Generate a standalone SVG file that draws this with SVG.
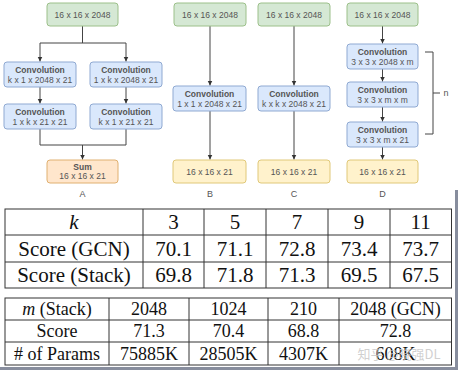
<svg xmlns="http://www.w3.org/2000/svg" width="458" height="370" viewBox="0 0 458 370">
<style>
.box{stroke-width:1}
.g{fill:#d5e8d4;stroke:#9cc08a}
.b{fill:#dae8fc;stroke:#8fa9d2}
.o{fill:#ffe6cc;stroke:#e0b070}
.y{fill:#fff2cc;stroke:#e0c878}
.t{font-family:"Liberation Sans",Arial,sans-serif;font-size:8.5px;fill:#555;text-anchor:middle}
.tb{font-weight:bold}
.lbl{font-family:"Liberation Sans",Arial,sans-serif;font-size:9px;fill:#555;text-anchor:middle}
.c{fill:none;stroke:#444;stroke-width:1}
.tl{fill:none;stroke:#333;stroke-width:1}
.tx{font-family:"Liberation Serif","Times New Roman",serif;fill:#111;text-anchor:middle}
.t1{font-size:21px}
.t2{font-size:18px}
</style>
<defs>
<marker id="ah" markerUnits="userSpaceOnUse" markerWidth="6" markerHeight="6" refX="5" refY="2.5" orient="auto">
<path d="M0,0 L5,2.5 L0,5 z" fill="#333"/>
</marker>
</defs>
<rect width="458" height="370" fill="#fff"/>

<g id="connectors">
<path class="c" d="M82.5 26 V43 M40 43 H126"/>
<path class="c" d="M40 43 V61.5" marker-end="url(#ah)"/>
<path class="c" d="M126 43 V61.5" marker-end="url(#ah)"/>
<path class="c" d="M40 87 V103.5" marker-end="url(#ah)"/>
<path class="c" d="M126 87 V103.5" marker-end="url(#ah)"/>
<path class="c" d="M40 129 V145 H126 V129"/>
<path class="c" d="M82.5 145 V159.5" marker-end="url(#ah)"/>
<path class="c" d="M210 26 V85.5" marker-end="url(#ah)"/>
<path class="c" d="M210 111 V159.5" marker-end="url(#ah)"/>
<path class="c" d="M294 26 V85.5" marker-end="url(#ah)"/>
<path class="c" d="M294 111 V159.5" marker-end="url(#ah)"/>
<path class="c" d="M382.5 26 V43.5" marker-end="url(#ah)"/>
<path class="c" d="M382.5 69 V81.5" marker-end="url(#ah)"/>
<path class="c" d="M382.5 107 V121.5" marker-end="url(#ah)"/>
<path class="c" d="M382.5 147 V159.5" marker-end="url(#ah)"/>
<path class="c" d="M425 52 H433 V134 H425 M433 93 H440" stroke="#666"/>
</g>

<g id="a-in"><rect class="box g" x="47" y="3" width="71" height="23" rx="3"/><text class="t" x="82.5" y="17.5">16 x 16 x 2048</text></g>
<g id="a-conv1l"><rect class="box b" x="4" y="62" width="72" height="25" rx="3"/><text class="t tb" x="40" y="73">Convolution</text><text class="t" x="40" y="83">k x 1 x 2048 x 21</text></g>
<g id="a-conv1r"><rect class="box b" x="90" y="62" width="72" height="25" rx="3"/><text class="t tb" x="126" y="73">Convolution</text><text class="t" x="126" y="83">1 x k x 2048 x 21</text></g>
<g id="a-conv2l"><rect class="box b" x="4" y="104" width="72" height="25" rx="3"/><text class="t tb" x="40" y="115">Convolution</text><text class="t" x="40" y="125">1 x k x 21 x 21</text></g>
<g id="a-conv2r"><rect class="box b" x="90" y="104" width="72" height="25" rx="3"/><text class="t tb" x="126" y="115">Convolution</text><text class="t" x="126" y="125">k x 1 x 21 x 21</text></g>
<g id="a-sum"><rect class="box o" x="47" y="160" width="71" height="23" rx="3"/><text class="t tb" x="82.5" y="169.5">Sum</text><text class="t" x="82.5" y="179">16 x 16 x 21</text></g>
<text class="lbl" x="82.5" y="196.5">A</text>

<g id="b-in"><rect class="box g" x="174" y="3" width="72" height="23" rx="3"/><text class="t" x="210" y="17.5">16 x 16 x 2048</text></g>
<g id="b-conv"><rect class="box b" x="173" y="86" width="73" height="25" rx="3"/><text class="t tb" x="209.5" y="97">Convolution</text><text class="t" x="209.5" y="107">1 x 1 x 2048 x 21</text></g>
<g id="b-out"><rect class="box y" x="173" y="160" width="73" height="23" rx="3"/><text class="t" x="209.5" y="174.5">16 x 16 x 21</text></g>
<text class="lbl" x="210" y="196.5">B</text>

<g id="c-in"><rect class="box g" x="258" y="3" width="72" height="23" rx="3"/><text class="t" x="294" y="17.5">16 x 16 x 2048</text></g>
<g id="c-conv"><rect class="box b" x="258" y="86" width="72" height="25" rx="3"/><text class="t tb" x="294" y="97">Convolution</text><text class="t" x="294" y="107">k x k x 2048 x 21</text></g>
<g id="c-out"><rect class="box y" x="258" y="160" width="72" height="23" rx="3"/><text class="t" x="294" y="174.5">16 x 16 x 21</text></g>
<text class="lbl" x="294" y="196.5">C</text>

<g id="d-in"><rect class="box g" x="347" y="3" width="71" height="23" rx="3"/><text class="t" x="382.5" y="17.5">16 x 16 x 2048</text></g>
<g id="d-conv1"><rect class="box b" x="347" y="44" width="71" height="25" rx="3"/><text class="t tb" x="382.5" y="55">Convolution</text><text class="t" x="382.5" y="65">3 x 3 x 2048 x m</text></g>
<g id="d-conv2"><rect class="box b" x="347" y="82" width="71" height="25" rx="3"/><text class="t tb" x="382.5" y="93">Convolution</text><text class="t" x="382.5" y="103">3 x 3 x m x m</text></g>
<g id="d-conv3"><rect class="box b" x="347" y="122" width="71" height="25" rx="3"/><text class="t tb" x="382.5" y="133">Convolution</text><text class="t" x="382.5" y="143">3 x 3 x m x 21</text></g>
<g id="d-out"><rect class="box y" x="347" y="160" width="71" height="23" rx="3"/><text class="t" x="382.5" y="174.5">16 x 16 x 21</text></g>
<text class="lbl" x="382.5" y="196.5">D</text>
<text class="lbl" x="446" y="96">n</text>

<g id="table1">
<rect class="tl" x="5" y="209" width="446.5" height="79"/>
<path class="tl" d="M5 235 H451.5 M5 262 H451.5 M143 209 V288 M204 209 V288 M266 209 V288 M328 209 V288 M390 209 V288"/>
<text class="tx t1" x="74" y="229" font-style="italic">k</text>
<text class="tx t1" x="173.5" y="229">3</text>
<text class="tx t1" x="235" y="229">5</text>
<text class="tx t1" x="297" y="229">7</text>
<text class="tx t1" x="359" y="229">9</text>
<text class="tx t1" x="420.7" y="229">11</text>
<text class="tx t1" x="74" y="255.5">Score (GCN)</text>
<text class="tx t1" x="173.5" y="255.5">70.1</text>
<text class="tx t1" x="235" y="255.5">71.1</text>
<text class="tx t1" x="297" y="255.5">72.8</text>
<text class="tx t1" x="359" y="255.5">73.4</text>
<text class="tx t1" x="420.7" y="255.5">73.7</text>
<text class="tx t1" x="74" y="282">Score (Stack)</text>
<text class="tx t1" x="173.5" y="282">69.8</text>
<text class="tx t1" x="235" y="282">71.8</text>
<text class="tx t1" x="297" y="282">71.3</text>
<text class="tx t1" x="359" y="282">69.5</text>
<text class="tx t1" x="420.7" y="282">67.5</text>
</g>

<g id="table2">
<rect class="tl" x="5" y="298" width="446.5" height="67"/>
<path class="tl" d="M5 320 H451.5 M5 342 H451.5 M109 298 V365 M189 298 V365 M268 298 V365 M339 298 V365"/>
<text class="tx t2" x="57" y="315"><tspan font-style="italic">m</tspan> (Stack)</text>
<text class="tx t2" x="149" y="315">2048</text>
<text class="tx t2" x="228.5" y="315">1024</text>
<text class="tx t2" x="303.5" y="315">210</text>
<text class="tx t2" x="395.5" y="315">2048 (GCN)</text>
<text class="tx t2" x="57" y="337">Score</text>
<text class="tx t2" x="149" y="337">71.3</text>
<text class="tx t2" x="228.5" y="337">70.4</text>
<text class="tx t2" x="303.5" y="337">68.8</text>
<text class="tx t2" x="395.5" y="337">72.8</text>
<text class="tx t2" x="57" y="360"># of Params</text>
<text class="tx t2" x="149" y="360">75885K</text>
<text class="tx t2" x="228.5" y="360">28505K</text>
<text class="tx t2" x="303.5" y="360">4307K</text>
<text class="tx t2" x="395.5" y="360">608K</text>
</g>

<text x="399" y="359" font-family="'Noto Sans CJK SC','Liberation Sans',sans-serif" font-size="13" fill="#c8c8c8" fill-opacity="0.85" text-anchor="middle">知乎 @晓强DL</text>

<rect x="455" y="190" width="3" height="180" fill="#878d9d"/>
<rect x="0" y="367" width="458" height="3" fill="#878d9d"/>
</svg>
